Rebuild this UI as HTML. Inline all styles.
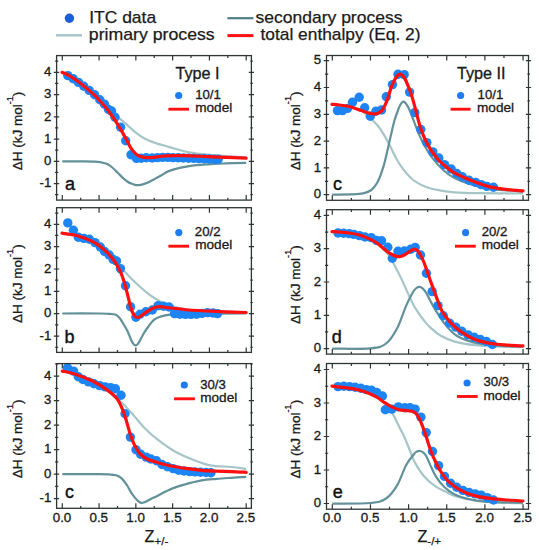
<!DOCTYPE html>
<html><head><meta charset="utf-8"><title>ITC enthalpy</title>
<style>html,body{margin:0;padding:0;background:#fff;width:539px;height:550px;overflow:hidden}svg{display:block}</style>
</head><body>
<svg width="539" height="550" viewBox="0 0 539 550">
<rect width="539" height="550" fill="#fff"/>
<circle cx="69.4" cy="18.2" r="4.7" fill="#1a5fd6"/>
<line x1="56" y1="35.3" x2="82" y2="35.3" stroke="#a6c5c8" stroke-width="2.4"/>
<line x1="227.4" y1="18.2" x2="253.4" y2="18.2" stroke="#4f7e88" stroke-width="2.2"/>
<line x1="227.4" y1="35.6" x2="253.4" y2="35.6" stroke="#ff1010" stroke-width="3"/>
<g font-family='"Liberation Sans", sans-serif' font-size="17" fill="#1a1a1a" stroke="#1a1a1a" stroke-width="0.25">
<text x="89.2" y="22.8" textLength="66.9" lengthAdjust="spacingAndGlyphs">ITC data</text>
<text x="88.8" y="39.9" textLength="125.9" lengthAdjust="spacingAndGlyphs">primary process</text>
<text x="255.6" y="23.0" textLength="146.8" lengthAdjust="spacingAndGlyphs">secondary process</text>
<text x="260.5" y="40.2" textLength="160.0" lengthAdjust="spacingAndGlyphs">total enthalpy (Eq. 2)</text>
</g>
<path d="M62,72.3 C63.05,72.78 65.85,73.83 68.3,75.2 C70.75,76.57 73.92,78.53 76.7,80.5 C79.48,82.47 82.68,85.13 85,87 C87.32,88.87 88.75,90.08 90.6,91.7 C92.45,93.32 94.43,95.07 96.1,96.7 C97.77,98.33 99.02,99.85 100.6,101.5 C102.18,103.15 103.75,104.82 105.6,106.6 C107.45,108.38 109.38,110.23 111.7,112.2 C114.02,114.17 116.9,116.25 119.5,118.4 C122.1,120.55 124.7,122.83 127.3,125.1 C129.9,127.37 132.32,129.82 135.1,132 C137.88,134.18 140.67,136.38 144,138.2 C147.33,140.02 151.6,141.63 155.1,142.9 C158.6,144.17 161.68,144.82 165,145.8 C168.32,146.78 170.98,147.72 175,148.8 C179.02,149.88 183.65,151.32 189.1,152.3 C194.55,153.28 201.52,154.08 207.7,154.7 C213.88,155.32 219.78,155.55 226.2,156 C232.62,156.45 242.87,157.17 246.2,157.4" fill="none" stroke="#a6c5c8" stroke-width="2.2" stroke-linejoin="round"/>
<path d="M62.3,161.3 C66.08,161.32 79.55,161.35 85,161.4 C90.45,161.45 92.5,161.48 95,161.6 C97.5,161.72 98.5,161.87 100,162.1 C101.5,162.33 102.7,162.63 104,163 C105.3,163.37 106.52,163.63 107.8,164.3 C109.08,164.97 110.4,165.95 111.7,167 C113,168.05 114.3,169.33 115.6,170.6 C116.9,171.87 118.2,173.3 119.5,174.6 C120.8,175.9 122.1,177.25 123.4,178.4 C124.7,179.55 126,180.63 127.3,181.5 C128.6,182.37 129.92,183.05 131.2,183.6 C132.48,184.15 133.7,184.55 135,184.8 C136.3,185.05 137.68,185.17 139,185.1 C140.32,185.03 141.6,184.77 142.9,184.4 C144.2,184.03 145.45,183.48 146.8,182.9 C148.15,182.32 149.5,181.65 151,180.9 C152.5,180.15 153.97,179.38 155.8,178.4 C157.63,177.42 159.63,176.3 162,175 C164.37,173.7 165.48,172.07 170,170.6 C174.52,169.13 182.82,167.25 189.1,166.2 C195.38,165.15 201.52,164.77 207.7,164.3 C213.88,163.83 219.78,163.65 226.2,163.4 C232.62,163.15 242.87,162.9 246.2,162.8" fill="none" stroke="#62919a" stroke-width="2.2" stroke-linejoin="round"/>
<g fill="#1c84f4">
<circle cx="67.8" cy="75.6" r="4.7"/>
<circle cx="73.2" cy="78.8" r="4.7"/>
<circle cx="78.5" cy="82.4" r="4.7"/>
<circle cx="83.8" cy="86.2" r="4.7"/>
<circle cx="89.2" cy="90.4" r="4.7"/>
<circle cx="94.6" cy="94.8" r="4.7"/>
<circle cx="99.8" cy="99.8" r="4.7"/>
<circle cx="104.5" cy="104.2" r="4.7"/>
<circle cx="108.5" cy="109.5" r="4.7"/>
<circle cx="111.5" cy="111" r="4.7"/>
<circle cx="115" cy="117.3" r="4.7"/>
<circle cx="120.6" cy="127.3" r="4.7"/>
<circle cx="125.7" cy="140.8" r="4.7"/>
<circle cx="131" cy="154.7" r="4.7"/>
<circle cx="136.5" cy="158.4" r="4.7"/>
<circle cx="141.2" cy="158.2" r="4.7"/>
<circle cx="146.2" cy="157.8" r="4.7"/>
<circle cx="152.2" cy="158" r="4.7"/>
<circle cx="157.4" cy="157.6" r="4.7"/>
<circle cx="162.6" cy="157.4" r="4.7"/>
<circle cx="167.8" cy="157.4" r="4.7"/>
<circle cx="173" cy="157.6" r="4.7"/>
<circle cx="178.2" cy="157.8" r="4.7"/>
<circle cx="183.4" cy="158" r="4.7"/>
<circle cx="188.6" cy="158.2" r="4.7"/>
<circle cx="193.8" cy="158.4" r="4.7"/>
<circle cx="199" cy="158.6" r="4.7"/>
<circle cx="204.2" cy="158.8" r="4.7"/>
<circle cx="209.4" cy="159" r="4.7"/>
<circle cx="214.6" cy="159.2" r="4.7"/>
<circle cx="218.2" cy="159.2" r="4.7"/>
</g>
<path d="M62,72.3 C63.05,72.78 65.85,73.83 68.3,75.2 C70.75,76.57 73.92,78.53 76.7,80.5 C79.48,82.47 82.68,85.13 85,87 C87.32,88.87 88.75,90.08 90.6,91.7 C92.45,93.32 94.43,95.03 96.1,96.7 C97.77,98.37 99.02,99.95 100.6,101.7 C102.18,103.45 103.85,105.07 105.6,107.2 C107.35,109.33 109.43,112.18 111.1,114.5 C112.77,116.82 114.37,119.18 115.6,121.1 C116.83,123.02 117.37,124.12 118.5,126 C119.63,127.88 121,129.97 122.4,132.4 C123.8,134.83 125.42,137.88 126.9,140.6 C128.38,143.32 129.82,146.48 131.3,148.7 C132.78,150.92 134.32,152.6 135.8,153.9 C137.28,155.2 138.47,155.88 140.2,156.5 C141.93,157.12 144.23,157.43 146.2,157.6 C148.17,157.77 148.75,157.8 152,157.5 C155.25,157.2 160.33,156.12 165.7,155.8 C171.07,155.48 177.2,155.47 184.2,155.6 C191.2,155.73 200.7,156.3 207.7,156.6 C214.7,156.9 219.78,157.13 226.2,157.4 C232.62,157.67 242.87,158.07 246.2,158.2" fill="none" stroke="#ff1010" stroke-width="3.2" stroke-linecap="round" stroke-linejoin="round"/>
<rect x="56.6" y="55.6" width="194.8" height="144.5" fill="none" stroke="#2f3535" stroke-width="1.3"/>
<path d="M62.3,55.6v5M62.3,200.1v-5M80.69,55.6v2.4M80.69,200.1v-2.4M99.08,55.6v5M99.08,200.1v-5M117.47,55.6v2.4M117.47,200.1v-2.4M135.86,55.6v5M135.86,200.1v-5M154.25,55.6v2.4M154.25,200.1v-2.4M172.64,55.6v5M172.64,200.1v-5M191.03,55.6v2.4M191.03,200.1v-2.4M209.42,55.6v5M209.42,200.1v-5M227.81,55.6v2.4M227.81,200.1v-2.4M246.2,55.6v5M246.2,200.1v-5M55.1,194.68h3.2M250.4,194.68h2.4M53.8,183.55h5.4M248.8,183.55h5.2M55.1,172.43h3.2M250.4,172.43h2.4M53.8,161.3h5.4M248.8,161.3h5.2M55.1,150.18h3.2M250.4,150.18h2.4M53.8,139.05h5.4M248.8,139.05h5.2M55.1,127.93h3.2M250.4,127.93h2.4M53.8,116.8h5.4M248.8,116.8h5.2M55.1,105.68h3.2M250.4,105.68h2.4M53.8,94.55h5.4M248.8,94.55h5.2M55.1,83.43h3.2M250.4,83.43h2.4M53.8,72.3h5.4M248.8,72.3h5.2M55.1,61.18h3.2M250.4,61.18h2.4" fill="none" stroke="#2f3535" stroke-width="1.2"/>
<g font-family='"Liberation Sans", sans-serif' font-size="13.2" fill="#1a1a1a" text-anchor="end" stroke="#1a1a1a" stroke-width="0.32">
<text x="51.3" y="187.25">-1</text>
<text x="51.3" y="165">0</text>
<text x="51.3" y="142.75">1</text>
<text x="51.3" y="120.5">2</text>
<text x="51.3" y="98.25">3</text>
<text x="51.3" y="76">4</text>
</g>
<text transform="translate(22,131) rotate(-90)" font-family='"Liberation Sans", sans-serif' font-size="13.5" fill="#1a1a1a" stroke="#1a1a1a" stroke-width="0.32" text-anchor="middle">&#916;H (kJ mol<tspan font-size="9.2" dy="-9">-1</tspan><tspan dy="9">)</tspan></text>
<text x="65" y="189.8" font-family='"Liberation Sans", sans-serif' font-size="18" fill="#111" stroke="#111" stroke-width="0.4">a</text>
<g font-family='"Liberation Sans", sans-serif' fill="#1a1a1a" stroke="#1a1a1a" stroke-width="0.32">
<text x="175.4" y="79.1" font-size="16.2">Type I</text>
<circle cx="178.7" cy="95.5" r="3.6" fill="#1e7bf0" stroke="none"/>
<text x="195.2" y="99.2" font-size="13.2">10/1</text>
<line x1="168.4" y1="109.2" x2="189" y2="109.2" stroke="#ff1010" stroke-width="2.9"/>
<text x="195.2" y="111.6" font-size="13.6">model</text>
</g>
<path d="M62,233.2 C64.1,233.5 71.6,234.42 74.6,235 C77.6,235.58 77.72,235.93 80,236.7 C82.28,237.47 85.52,238.4 88.3,239.6 C91.08,240.8 94.02,242.17 96.7,243.9 C99.38,245.63 102.03,247.92 104.4,250 C106.77,252.08 108.97,254.35 110.9,256.4 C112.83,258.45 114.3,260.4 116,262.3 C117.7,264.2 119.27,265.85 121.1,267.8 C122.93,269.75 124.93,271.83 127,274 C129.07,276.17 131.33,278.67 133.5,280.8 C135.67,282.93 137.95,284.97 140,286.8 C142.05,288.63 143.8,290.18 145.8,291.8 C147.8,293.42 149.63,294.93 152,296.5 C154.37,298.07 157,299.73 160,301.2 C163,302.67 166.7,304.17 170,305.3 C173.3,306.43 176.13,307.22 179.8,308 C183.47,308.78 187.35,309.5 192,310 C196.65,310.5 202,310.67 207.7,311 C213.4,311.33 219.78,311.73 226.2,312 C232.62,312.27 242.87,312.5 246.2,312.6" fill="none" stroke="#a6c5c8" stroke-width="2.2" stroke-linejoin="round"/>
<path d="M62.3,313.5 C68.58,313.5 92.05,313.43 100,313.5 C107.95,313.57 107.5,313.72 110,313.9 C112.5,314.08 113.47,314 115,314.6 C116.53,315.2 117.82,315.97 119.2,317.5 C120.58,319.03 121.88,321.47 123.3,323.8 C124.72,326.13 126.33,328.67 127.7,331.5 C129.07,334.33 130.53,338.72 131.5,340.8 C132.47,342.88 132.85,343.25 133.5,344 C134.15,344.75 134.77,345.22 135.4,345.3 C136.03,345.38 136.67,345.07 137.3,344.5 C137.93,343.93 138.25,343.53 139.2,341.9 C140.15,340.27 141.47,337.27 143,334.7 C144.53,332.13 146.53,329.02 148.4,326.5 C150.27,323.98 152.27,321.23 154.2,319.6 C156.13,317.97 157.37,317.53 160,316.7 C162.63,315.87 165,315.07 170,314.6 C175,314.13 177.3,314.1 190,313.9 C202.7,313.7 236.83,313.48 246.2,313.4" fill="none" stroke="#62919a" stroke-width="2.2" stroke-linejoin="round"/>
<g fill="#1c84f4">
<circle cx="67.8" cy="222.9" r="4.7"/>
<circle cx="73.4" cy="230.2" r="4.7"/>
<circle cx="78.3" cy="237.2" r="4.7"/>
<circle cx="83.8" cy="238.4" r="4.7"/>
<circle cx="89.4" cy="239.3" r="4.7"/>
<circle cx="95" cy="242.6" r="4.7"/>
<circle cx="100.3" cy="247" r="4.7"/>
<circle cx="104.5" cy="251.5" r="4.7"/>
<circle cx="109.2" cy="255" r="4.7"/>
<circle cx="113.2" cy="259.5" r="4.7"/>
<circle cx="116.5" cy="261" r="4.7"/>
<circle cx="120.4" cy="268.6" r="4.7"/>
<circle cx="125.5" cy="285.7" r="4.7"/>
<circle cx="130.6" cy="306.8" r="4.7"/>
<circle cx="135.9" cy="317.3" r="4.7"/>
<circle cx="140" cy="314.2" r="4.7"/>
<circle cx="145.9" cy="311.7" r="4.7"/>
<circle cx="152.3" cy="310" r="4.7"/>
<circle cx="158" cy="305.8" r="4.7"/>
<circle cx="163.5" cy="306.2" r="4.7"/>
<circle cx="169" cy="307" r="4.7"/>
<circle cx="174.5" cy="313.6" r="4.7"/>
<circle cx="180" cy="314.2" r="4.7"/>
<circle cx="185.5" cy="314.4" r="4.7"/>
<circle cx="191" cy="314.4" r="4.7"/>
<circle cx="196.5" cy="314.2" r="4.7"/>
<circle cx="202" cy="313.4" r="4.7"/>
<circle cx="207.5" cy="312.6" r="4.7"/>
<circle cx="213" cy="313" r="4.7"/>
<circle cx="217.5" cy="313.6" r="4.7"/>
</g>
<path d="M62,233.2 C64.1,233.5 71.6,234.42 74.6,235 C77.6,235.58 77.72,235.93 80,236.7 C82.28,237.47 85.52,238.4 88.3,239.6 C91.08,240.8 94.02,242.17 96.7,243.9 C99.38,245.63 102.03,247.88 104.4,250 C106.77,252.12 108.85,254.17 110.9,256.6 C112.95,259.03 115,261.82 116.7,264.6 C118.4,267.38 119.88,270.52 121.1,273.3 C122.32,276.08 123.15,278.63 124,281.3 C124.85,283.97 125.48,286.6 126.2,289.3 C126.92,292 127.63,294.8 128.3,297.5 C128.97,300.2 129.48,303 130.2,305.5 C130.92,308 131.8,310.67 132.6,312.5 C133.4,314.33 134.18,315.67 135,316.5 C135.82,317.33 136.58,317.53 137.5,317.5 C138.42,317.47 139.52,316.85 140.5,316.3 C141.48,315.75 141.8,315.32 143.4,314.2 C145,313.08 148.07,310.77 150.1,309.6 C152.13,308.43 153.95,307.7 155.6,307.2 C157.25,306.7 157.5,306.47 160,306.6 C162.5,306.73 165.75,307.43 170.6,308 C175.45,308.57 182.92,309.5 189.1,310 C195.28,310.5 201.52,310.68 207.7,311 C213.88,311.32 219.78,311.65 226.2,311.9 C232.62,312.15 242.87,312.4 246.2,312.5" fill="none" stroke="#ff1010" stroke-width="3.2" stroke-linecap="round" stroke-linejoin="round"/>
<rect x="56.6" y="207.7" width="194.8" height="144.7" fill="none" stroke="#2f3535" stroke-width="1.3"/>
<path d="M62.3,207.7v5M62.3,352.4v-5M80.69,207.7v2.4M80.69,352.4v-2.4M99.08,207.7v5M99.08,352.4v-5M117.47,207.7v2.4M117.47,352.4v-2.4M135.86,207.7v5M135.86,352.4v-5M154.25,207.7v2.4M154.25,352.4v-2.4M172.64,207.7v5M172.64,352.4v-5M191.03,207.7v2.4M191.03,352.4v-2.4M209.42,207.7v5M209.42,352.4v-5M227.81,207.7v2.4M227.81,352.4v-2.4M246.2,207.7v5M246.2,352.4v-5M55.1,347.23h3.2M250.4,347.23h2.4M53.8,336.05h5.4M248.8,336.05h5.2M55.1,324.88h3.2M250.4,324.88h2.4M53.8,313.7h5.4M248.8,313.7h5.2M55.1,302.52h3.2M250.4,302.52h2.4M53.8,291.35h5.4M248.8,291.35h5.2M55.1,280.17h3.2M250.4,280.17h2.4M53.8,269h5.4M248.8,269h5.2M55.1,257.82h3.2M250.4,257.82h2.4M53.8,246.65h5.4M248.8,246.65h5.2M55.1,235.47h3.2M250.4,235.47h2.4M53.8,224.3h5.4M248.8,224.3h5.2M55.1,213.12h3.2M250.4,213.12h2.4" fill="none" stroke="#2f3535" stroke-width="1.2"/>
<g font-family='"Liberation Sans", sans-serif' font-size="13.2" fill="#1a1a1a" text-anchor="end" stroke="#1a1a1a" stroke-width="0.32">
<text x="51.3" y="339.75">-1</text>
<text x="51.3" y="317.4">0</text>
<text x="51.3" y="295.05">1</text>
<text x="51.3" y="272.7">2</text>
<text x="51.3" y="250.35">3</text>
<text x="51.3" y="228">4</text>
</g>
<text transform="translate(22,283.7) rotate(-90)" font-family='"Liberation Sans", sans-serif' font-size="13.5" fill="#1a1a1a" stroke="#1a1a1a" stroke-width="0.32" text-anchor="middle">&#916;H (kJ mol<tspan font-size="9.2" dy="-9">-1</tspan><tspan dy="9">)</tspan></text>
<text x="64.6" y="343.4" font-family='"Liberation Sans", sans-serif' font-size="18" fill="#111" stroke="#111" stroke-width="0.4">b</text>
<g font-family='"Liberation Sans", sans-serif' fill="#1a1a1a" stroke="#1a1a1a" stroke-width="0.32">
<circle cx="178.8" cy="232.6" r="3.6" fill="#1e7bf0" stroke="none"/>
<text x="194.8" y="235.8" font-size="13.2">20/2</text>
<line x1="168.4" y1="246.2" x2="189" y2="246.2" stroke="#ff1010" stroke-width="2.9"/>
<text x="195.2" y="249.3" font-size="13.6">model</text>
</g>
<path d="M62.3,371.1 C64.35,371.57 69.47,372.2 74.6,373.9 C79.73,375.6 87.53,378.52 93.1,381.3 C98.67,384.08 103.35,387.2 108,390.6 C112.65,394 116.68,397.52 121,401.7 C125.32,405.88 129.9,411.22 133.9,415.7 C137.9,420.18 141.25,424.78 145,428.6 C148.75,432.42 151.42,434.78 156.4,438.6 C161.38,442.42 168.72,447.95 174.9,451.5 C181.08,455.05 187.65,457.6 193.5,459.9 C199.35,462.2 203.7,464.12 210,465.3 C216.3,466.48 225.27,466.4 231.3,467 C237.33,467.6 243.72,468.58 246.2,468.9" fill="none" stroke="#a6c5c8" stroke-width="2.2" stroke-linejoin="round"/>
<path d="M62.3,474.1 C68.58,474.12 92.05,474.13 100,474.2 C107.95,474.27 107.33,474.32 110,474.5 C112.67,474.68 114.17,474.75 116,475.3 C117.83,475.85 119.58,476.73 121,477.8 C122.42,478.87 123.42,480.33 124.5,481.7 C125.58,483.07 126.58,484.52 127.5,486 C128.42,487.48 129.12,489.13 130,490.6 C130.88,492.07 131.87,493.5 132.8,494.8 C133.73,496.1 134.67,497.32 135.6,498.4 C136.53,499.48 137.47,500.57 138.4,501.3 C139.33,502.03 140.27,502.62 141.2,502.8 C142.13,502.98 143.08,502.67 144,502.4 C144.92,502.13 145.53,501.78 146.7,501.2 C147.87,500.62 149.32,499.73 151,498.9 C152.68,498.07 154.35,497.42 156.8,496.2 C159.25,494.98 163.17,492.87 165.7,491.6 C168.23,490.33 168.92,489.77 172,488.6 C175.08,487.43 179.25,485.97 184.2,484.6 C189.15,483.23 196.32,481.35 201.7,480.4 C207.08,479.45 211.57,479.33 216.5,478.9 C221.43,478.47 226.35,478.15 231.3,477.8 C236.25,477.45 243.72,476.97 246.2,476.8" fill="none" stroke="#62919a" stroke-width="2.2" stroke-linejoin="round"/>
<g fill="#1c84f4">
<circle cx="67.5" cy="367.8" r="4.7"/>
<circle cx="73.6" cy="371.1" r="4.7"/>
<circle cx="78.3" cy="376.7" r="4.7"/>
<circle cx="82.9" cy="379.5" r="4.7"/>
<circle cx="88.5" cy="381.9" r="4.7"/>
<circle cx="94" cy="383.7" r="4.7"/>
<circle cx="99.6" cy="385.6" r="4.7"/>
<circle cx="105.2" cy="386.9" r="4.7"/>
<circle cx="110.7" cy="387.8" r="4.7"/>
<circle cx="115.4" cy="388.8" r="4.7"/>
<circle cx="121" cy="395.3" r="4.7"/>
<circle cx="125" cy="413.8" r="4.7"/>
<circle cx="130.4" cy="437.1" r="4.7"/>
<circle cx="136" cy="449.7" r="4.7"/>
<circle cx="140.6" cy="454.3" r="4.7"/>
<circle cx="146.2" cy="457.1" r="4.7"/>
<circle cx="150.8" cy="459" r="4.7"/>
<circle cx="156.4" cy="460.8" r="4.7"/>
<circle cx="161.9" cy="464.5" r="4.7"/>
<circle cx="167.5" cy="466.8" r="4.7"/>
<circle cx="173.1" cy="468.6" r="4.7"/>
<circle cx="178.6" cy="470.2" r="4.7"/>
<circle cx="184.1" cy="471" r="4.7"/>
<circle cx="189.6" cy="471.6" r="4.7"/>
<circle cx="195.1" cy="471.9" r="4.7"/>
<circle cx="200.6" cy="472.3" r="4.7"/>
<circle cx="206.1" cy="472.5" r="4.7"/>
<circle cx="211" cy="472.7" r="4.7"/>
</g>
<path d="M62.3,371.1 C64.35,371.57 69.47,372.2 74.6,373.9 C79.73,375.6 87.53,378.52 93.1,381.3 C98.67,384.08 103.98,387.65 108,390.6 C112.02,393.55 114.73,395.75 117.2,399 C119.67,402.25 121.25,406.4 122.8,410.1 C124.35,413.8 125.23,417.08 126.5,421.2 C127.77,425.32 129.13,430.98 130.4,434.8 C131.67,438.62 132.55,441 134.1,444.1 C135.65,447.2 137.53,450.92 139.7,453.4 C141.87,455.88 144.02,457.45 147.1,459 C150.18,460.55 154.18,461.53 158.2,462.7 C162.22,463.87 166.43,465.03 171.2,466 C175.97,466.97 181.72,467.77 186.8,468.5 C191.88,469.23 196.75,469.95 201.7,470.4 C206.65,470.85 211.57,471 216.5,471.2 C221.43,471.4 226.35,471.42 231.3,471.6 C236.25,471.78 243.72,472.18 246.2,472.3" fill="none" stroke="#ff1010" stroke-width="3.2" stroke-linecap="round" stroke-linejoin="round"/>
<rect x="56.6" y="363.6" width="194.8" height="144.7" fill="none" stroke="#2f3535" stroke-width="1.3"/>
<path d="M62.3,363.6v5M62.3,508.3v-5M80.69,363.6v2.4M80.69,508.3v-2.4M99.08,363.6v5M99.08,508.3v-5M117.47,363.6v2.4M117.47,508.3v-2.4M135.86,363.6v5M135.86,508.3v-5M154.25,363.6v2.4M154.25,508.3v-2.4M172.64,363.6v5M172.64,508.3v-5M191.03,363.6v2.4M191.03,508.3v-2.4M209.42,363.6v5M209.42,508.3v-5M227.81,363.6v2.4M227.81,508.3v-2.4M246.2,363.6v5M246.2,508.3v-5M53.8,498.6h5.4M248.8,498.6h5.2M55.1,486.35h3.2M250.4,486.35h2.4M53.8,474.1h5.4M248.8,474.1h5.2M55.1,461.85h3.2M250.4,461.85h2.4M53.8,449.6h5.4M248.8,449.6h5.2M55.1,437.35h3.2M250.4,437.35h2.4M53.8,425.1h5.4M248.8,425.1h5.2M55.1,412.85h3.2M250.4,412.85h2.4M53.8,400.6h5.4M248.8,400.6h5.2M55.1,388.35h3.2M250.4,388.35h2.4M53.8,376.1h5.4M248.8,376.1h5.2M55.1,363.85h3.2M250.4,363.85h2.4" fill="none" stroke="#2f3535" stroke-width="1.2"/>
<g font-family='"Liberation Sans", sans-serif' font-size="13.2" fill="#1a1a1a" text-anchor="end" stroke="#1a1a1a" stroke-width="0.32">
<text x="51.3" y="502.3">-1</text>
<text x="51.3" y="477.8">0</text>
<text x="51.3" y="453.3">1</text>
<text x="51.3" y="428.8">2</text>
<text x="51.3" y="404.3">3</text>
<text x="51.3" y="379.8">4</text>
</g>
<text transform="translate(22,438.8) rotate(-90)" font-family='"Liberation Sans", sans-serif' font-size="13.5" fill="#1a1a1a" stroke="#1a1a1a" stroke-width="0.32" text-anchor="middle">&#916;H (kJ mol<tspan font-size="9.2" dy="-9">-1</tspan><tspan dy="9">)</tspan></text>
<text x="64.9" y="497.7" font-family='"Liberation Sans", sans-serif' font-size="18" fill="#111" stroke="#111" stroke-width="0.4">c</text>
<g font-family='"Liberation Sans", sans-serif' fill="#1a1a1a" stroke="#1a1a1a" stroke-width="0.32">
<circle cx="184.3" cy="385" r="3.6" fill="#1e7bf0" stroke="none"/>
<text x="200.2" y="388.7" font-size="13.2">30/3</text>
<line x1="174.1" y1="398.8" x2="194.9" y2="398.8" stroke="#ff1010" stroke-width="2.9"/>
<text x="200.2" y="402.1" font-size="13.6">model</text>
</g>
<path d="M332,104.3 C333.18,104.42 336.05,104.6 339.1,105 C342.15,105.4 346.58,105.73 350.3,106.7 C354.02,107.67 358.62,109.4 361.4,110.8 C364.18,112.2 365.17,113.53 367,115.1 C368.83,116.67 370.92,118.78 372.4,120.2 C373.88,121.62 374.35,121.78 375.9,123.6 C377.45,125.42 379.5,127.68 381.7,131.1 C383.9,134.52 386.63,139.45 389.1,144.1 C391.57,148.75 394.03,154.67 396.5,159 C398.97,163.33 401.12,166.6 403.9,170.1 C406.68,173.6 409.52,177.18 413.2,180 C416.88,182.82 421.37,185.23 426,187 C430.63,188.77 436.25,189.72 441,190.6 C445.75,191.48 448,191.88 454.5,192.3 C461,192.72 468.58,192.92 480,193.1 C491.42,193.28 515.83,193.35 523,193.4" fill="none" stroke="#a6c5c8" stroke-width="2.2" stroke-linejoin="round"/>
<path d="M332.3,194.7 C336.82,194.57 353.03,194.6 359.4,193.9 C365.77,193.2 367.4,192.62 370.5,190.5 C373.6,188.38 375.83,185.22 378,181.2 C380.17,177.18 381.97,171.35 383.5,166.4 C385.03,161.45 385.95,156.77 387.2,151.5 C388.45,146.23 389.77,140.05 391,134.8 C392.23,129.55 393.37,124.27 394.6,120 C395.83,115.73 397.37,111.87 398.4,109.2 C399.43,106.53 400,105.27 400.8,104 C401.6,102.73 402.33,101.67 403.2,101.6 C404.07,101.53 404.97,102.23 406,103.6 C407.03,104.97 408.12,106.95 409.4,109.8 C410.68,112.65 412.07,116.52 413.7,120.7 C415.33,124.88 417.37,130.7 419.2,134.9 C421.03,139.1 422.52,142.07 424.7,145.9 C426.88,149.73 429.18,153.85 432.3,157.9 C435.42,161.95 439.7,166.85 443.4,170.2 C447.1,173.55 450.05,175.67 454.5,178 C458.95,180.33 464.52,182.43 470.1,184.2 C475.68,185.97 482.43,187.6 488,188.6 C493.57,189.6 497.67,189.75 503.5,190.2 C509.33,190.65 519.75,191.12 523,191.3" fill="none" stroke="#62919a" stroke-width="2.2" stroke-linejoin="round"/>
<g fill="#1c84f4">
<circle cx="337.5" cy="110.6" r="4.7"/>
<circle cx="342.5" cy="110.6" r="4.7"/>
<circle cx="347.5" cy="108.4" r="4.7"/>
<circle cx="352.5" cy="102.2" r="4.7"/>
<circle cx="359.2" cy="97.2" r="4.7"/>
<circle cx="364.7" cy="107.8" r="4.7"/>
<circle cx="370.3" cy="116.2" r="4.7"/>
<circle cx="375.9" cy="111.2" r="4.7"/>
<circle cx="381.5" cy="110" r="4.7"/>
<circle cx="386.3" cy="96.7" r="4.7"/>
<circle cx="392.5" cy="84.6" r="4.7"/>
<circle cx="398" cy="74.2" r="4.7"/>
<circle cx="404.2" cy="74.6" r="4.7"/>
<circle cx="409.6" cy="92.1" r="4.7"/>
<circle cx="414.8" cy="112.6" r="4.7"/>
<circle cx="420.8" cy="129.5" r="4.7"/>
<circle cx="426.8" cy="142.6" r="4.7"/>
<circle cx="432.8" cy="151.9" r="4.7"/>
<circle cx="438.8" cy="158" r="4.7"/>
<circle cx="444.5" cy="164.6" r="4.7"/>
<circle cx="451.2" cy="169" r="4.7"/>
<circle cx="456.8" cy="173.5" r="4.7"/>
<circle cx="462.3" cy="176.8" r="4.7"/>
<circle cx="469" cy="180.2" r="4.7"/>
<circle cx="475.7" cy="182.4" r="4.7"/>
<circle cx="481.3" cy="184.6" r="4.7"/>
<circle cx="486.8" cy="186.4" r="4.7"/>
<circle cx="493.5" cy="187.3" r="4.7"/>
</g>
<path d="M332,104.3 C333.18,104.42 336.05,104.6 339.1,105 C342.15,105.4 346.58,105.77 350.3,106.7 C354.02,107.63 358.07,109.48 361.4,110.6 C364.73,111.72 367.88,112.85 370.3,113.4 C372.72,113.95 374.03,114.3 375.9,113.9 C377.77,113.5 380.02,112.38 381.5,111 C382.98,109.62 383.78,107.62 384.8,105.6 C385.82,103.58 386.45,102.13 387.6,98.9 C388.75,95.67 390.32,89.75 391.7,86.2 C393.08,82.65 394.52,79.6 395.9,77.6 C397.28,75.6 398.62,74.22 400,74.2 C401.38,74.18 402.8,75.42 404.2,77.5 C405.6,79.58 407,83.18 408.4,86.7 C409.8,90.22 411.35,94.57 412.6,98.6 C413.85,102.63 414.72,106.48 415.9,110.9 C417.08,115.32 418.42,120.92 419.7,125.1 C420.98,129.28 422.05,132.37 423.6,136 C425.15,139.63 426.82,143.25 429,146.9 C431.18,150.55 434.3,154.95 436.7,157.9 C439.1,160.85 440.43,162.1 443.4,164.6 C446.37,167.1 450.05,170.32 454.5,172.9 C458.95,175.48 464.52,177.85 470.1,180.1 C475.68,182.35 482.43,184.9 488,186.4 C493.57,187.9 497.67,188.35 503.5,189.1 C509.33,189.85 519.75,190.6 523,190.9" fill="none" stroke="#ff1010" stroke-width="3.2" stroke-linecap="round" stroke-linejoin="round"/>
<rect x="326.5" y="55.5" width="202" height="144.8" fill="none" stroke="#2f3535" stroke-width="1.3"/>
<path d="M332.3,55.5v5M332.3,200.3v-5M351.38,55.5v2.4M351.38,200.3v-2.4M370.45,55.5v5M370.45,200.3v-5M389.52,55.5v2.4M389.52,200.3v-2.4M408.6,55.5v5M408.6,200.3v-5M427.68,55.5v2.4M427.68,200.3v-2.4M446.75,55.5v5M446.75,200.3v-5M465.83,55.5v2.4M465.83,200.3v-2.4M484.9,55.5v5M484.9,200.3v-5M503.98,55.5v2.4M503.98,200.3v-2.4M523.05,55.5v5M523.05,200.3v-5M323.7,194.7h5.4M525.9,194.7h5.2M325,181.3h3.2M527.5,181.3h2.4M323.7,167.9h5.4M525.9,167.9h5.2M325,154.5h3.2M527.5,154.5h2.4M323.7,141.1h5.4M525.9,141.1h5.2M325,127.7h3.2M527.5,127.7h2.4M323.7,114.3h5.4M525.9,114.3h5.2M325,100.9h3.2M527.5,100.9h2.4M323.7,87.5h5.4M525.9,87.5h5.2M325,74.1h3.2M527.5,74.1h2.4M323.7,60.7h5.4M525.9,60.7h5.2" fill="none" stroke="#2f3535" stroke-width="1.2"/>
<g font-family='"Liberation Sans", sans-serif' font-size="13.2" fill="#1a1a1a" text-anchor="end" stroke="#1a1a1a" stroke-width="0.32">
<text x="321" y="198.4">0</text>
<text x="321" y="171.6">1</text>
<text x="321" y="144.8">2</text>
<text x="321" y="118">3</text>
<text x="321" y="91.2">4</text>
<text x="321" y="64.4">5</text>
</g>
<text transform="translate(300,130.8) rotate(-90)" font-family='"Liberation Sans", sans-serif' font-size="13.5" fill="#1a1a1a" stroke="#1a1a1a" stroke-width="0.32" text-anchor="middle">&#916;H (kJ mol<tspan font-size="9.2" dy="-9">-1</tspan><tspan dy="9">)</tspan></text>
<text x="333" y="189.8" font-family='"Liberation Sans", sans-serif' font-size="18" fill="#111" stroke="#111" stroke-width="0.4">c</text>
<g font-family='"Liberation Sans", sans-serif' fill="#1a1a1a" stroke="#1a1a1a" stroke-width="0.32">
<text x="456.9" y="79.1" font-size="16.2">Type II</text>
<circle cx="460.6" cy="95.5" r="3.6" fill="#1e7bf0" stroke="none"/>
<text x="477.6" y="99.2" font-size="13.2">10/1</text>
<line x1="450.6" y1="109.2" x2="470.6" y2="109.2" stroke="#ff1010" stroke-width="2.9"/>
<text x="477" y="111.6" font-size="13.6">model</text>
</g>
<path d="M332,231.6 C333.32,231.68 337.03,231.87 339.9,232.1 C342.77,232.33 346.1,232.55 349.2,233 C352.3,233.45 355.42,233.95 358.5,234.8 C361.58,235.65 364.72,236.78 367.7,238.1 C370.68,239.42 373.68,240.72 376.4,242.7 C379.12,244.68 381.88,247.85 384,250 C386.12,252.15 387.2,252.78 389.1,255.6 C391,258.42 393.28,262.9 395.4,266.9 C397.52,270.9 399.88,275.57 401.8,279.6 C403.72,283.63 405.43,287.9 406.9,291.1 C408.37,294.3 409.33,296.18 410.6,298.8 C411.87,301.42 413.02,304.18 414.5,306.8 C415.98,309.42 417.75,312 419.5,314.5 C421.25,317 423.13,319.57 425,321.8 C426.87,324.03 428.13,325.62 430.7,327.9 C433.27,330.18 436.4,333.22 440.4,335.5 C444.4,337.78 448.92,339.98 454.7,341.6 C460.48,343.22 467.55,344.37 475.1,345.2 C482.65,346.03 492.02,346.28 500,346.6 C507.98,346.92 519.17,347.02 523,347.1" fill="none" stroke="#a6c5c8" stroke-width="2.2" stroke-linejoin="round"/>
<path d="M332.3,348.6 C338.67,348.57 361.53,349.25 370.5,348.4 C379.47,347.55 381.63,346.92 386.1,343.5 C390.57,340.08 393.95,334.22 397.3,327.9 C400.65,321.58 403.6,311.53 406.2,305.6 C408.8,299.67 411.18,295.23 412.9,292.3 C414.62,289.37 415.4,288.9 416.5,288 C417.6,287.1 418.48,286.85 419.5,286.9 C420.52,286.95 421.48,287.32 422.6,288.3 C423.72,289.28 424.93,290.75 426.2,292.8 C427.47,294.85 428.52,297.5 430.2,300.6 C431.88,303.7 433.92,307.57 436.3,311.4 C438.68,315.23 441.43,319.78 444.5,323.6 C447.57,327.42 450.97,331.5 454.7,334.3 C458.43,337.1 462.48,338.8 466.9,340.4 C471.32,342 475.42,342.98 481.2,343.9 C486.98,344.82 494.63,345.47 501.6,345.9 C508.57,346.33 519.43,346.4 523,346.5" fill="none" stroke="#62919a" stroke-width="2.2" stroke-linejoin="round"/>
<g fill="#1c84f4">
<circle cx="338" cy="233" r="4.7"/>
<circle cx="343.6" cy="233.2" r="4.7"/>
<circle cx="349.2" cy="233.6" r="4.7"/>
<circle cx="353.8" cy="234.4" r="4.7"/>
<circle cx="359.4" cy="235.6" r="4.7"/>
<circle cx="365" cy="237" r="4.7"/>
<circle cx="371.2" cy="237.6" r="4.7"/>
<circle cx="376.5" cy="240.5" r="4.7"/>
<circle cx="381.5" cy="240.8" r="4.7"/>
<circle cx="387.8" cy="247.2" r="4.7"/>
<circle cx="392.3" cy="258.2" r="4.7"/>
<circle cx="398" cy="251.2" r="4.7"/>
<circle cx="404.4" cy="251" r="4.7"/>
<circle cx="410.7" cy="249.3" r="4.7"/>
<circle cx="415.2" cy="247.4" r="4.7"/>
<circle cx="420.5" cy="255" r="4.7"/>
<circle cx="426.4" cy="273.2" r="4.7"/>
<circle cx="432.2" cy="291.6" r="4.7"/>
<circle cx="438" cy="305.6" r="4.7"/>
<circle cx="443.3" cy="315.8" r="4.7"/>
<circle cx="449.6" cy="323.1" r="4.7"/>
<circle cx="455.7" cy="327.1" r="4.7"/>
<circle cx="461.8" cy="331.2" r="4.7"/>
<circle cx="468" cy="334.9" r="4.7"/>
<circle cx="474.1" cy="337.3" r="4.7"/>
<circle cx="480.2" cy="339.4" r="4.7"/>
<circle cx="486.3" cy="341.4" r="4.7"/>
<circle cx="492.4" cy="344.5" r="4.7"/>
</g>
<path d="M332,231.6 C333.32,231.68 337.03,231.87 339.9,232.1 C342.77,232.33 346.1,232.55 349.2,233 C352.3,233.45 355.42,233.95 358.5,234.8 C361.58,235.65 364.72,236.78 367.7,238.1 C370.68,239.42 373.9,241.08 376.4,242.7 C378.9,244.32 380.58,246.1 382.7,247.8 C384.82,249.5 386.98,251.52 389.1,252.9 C391.22,254.28 393.5,255.5 395.4,256.1 C397.3,256.7 398.8,256.82 400.5,256.5 C402.2,256.18 403.85,255.18 405.6,254.2 C407.35,253.22 409.52,251.47 411,250.6 C412.48,249.73 413.42,249 414.5,249 C415.58,249 416.47,249.53 417.5,250.6 C418.53,251.67 419.62,253.42 420.7,255.4 C421.78,257.38 422.9,259.77 424,262.5 C425.1,265.23 425.82,267.62 427.3,271.8 C428.78,275.98 431.2,282.9 432.9,287.6 C434.6,292.3 435.92,295.97 437.5,300 C439.08,304.03 440.22,308.03 442.4,311.8 C444.58,315.57 447.53,319.3 450.6,322.6 C453.67,325.9 456.72,328.8 460.8,331.6 C464.88,334.4 470,337.42 475.1,339.4 C480.2,341.38 485.95,342.55 491.4,343.5 C496.85,344.45 502.53,344.7 507.8,345.1 C513.07,345.5 520.47,345.77 523,345.9" fill="none" stroke="#ff1010" stroke-width="3.2" stroke-linecap="round" stroke-linejoin="round"/>
<rect x="326.5" y="209.7" width="202" height="144.4" fill="none" stroke="#2f3535" stroke-width="1.3"/>
<path d="M332.3,209.7v5M332.3,354.1v-5M351.38,209.7v2.4M351.38,354.1v-2.4M370.45,209.7v5M370.45,354.1v-5M389.52,209.7v2.4M389.52,354.1v-2.4M408.6,209.7v5M408.6,354.1v-5M427.68,209.7v2.4M427.68,354.1v-2.4M446.75,209.7v5M446.75,354.1v-5M465.83,209.7v2.4M465.83,354.1v-2.4M484.9,209.7v5M484.9,354.1v-5M503.98,209.7v2.4M503.98,354.1v-2.4M523.05,209.7v5M523.05,354.1v-5M323.7,348.6h5.4M525.9,348.6h5.2M325,331.95h3.2M527.5,331.95h2.4M323.7,315.3h5.4M525.9,315.3h5.2M325,298.65h3.2M527.5,298.65h2.4M323.7,282h5.4M525.9,282h5.2M325,265.35h3.2M527.5,265.35h2.4M323.7,248.7h5.4M525.9,248.7h5.2M325,232.05h3.2M527.5,232.05h2.4M323.7,215.4h5.4M525.9,215.4h5.2" fill="none" stroke="#2f3535" stroke-width="1.2"/>
<g font-family='"Liberation Sans", sans-serif' font-size="13.2" fill="#1a1a1a" text-anchor="end" stroke="#1a1a1a" stroke-width="0.32">
<text x="321" y="352.3">0</text>
<text x="321" y="319">1</text>
<text x="321" y="285.7">2</text>
<text x="321" y="252.4">3</text>
<text x="321" y="219.1">4</text>
</g>
<text transform="translate(300,284.6) rotate(-90)" font-family='"Liberation Sans", sans-serif' font-size="13.5" fill="#1a1a1a" stroke="#1a1a1a" stroke-width="0.32" text-anchor="middle">&#916;H (kJ mol<tspan font-size="9.2" dy="-9">-1</tspan><tspan dy="9">)</tspan></text>
<text x="331.8" y="343.4" font-family='"Liberation Sans", sans-serif' font-size="18" fill="#111" stroke="#111" stroke-width="0.4">d</text>
<g font-family='"Liberation Sans", sans-serif' fill="#1a1a1a" stroke="#1a1a1a" stroke-width="0.32">
<circle cx="465.6" cy="232.6" r="3.6" fill="#1e7bf0" stroke="none"/>
<text x="481.7" y="235.8" font-size="13.2">20/2</text>
<line x1="455" y1="246.2" x2="475.8" y2="246.2" stroke="#ff1010" stroke-width="2.9"/>
<text x="481.7" y="249.3" font-size="13.6">model</text>
</g>
<path d="M332,386.1 C334.1,386.33 340.97,387.03 344.6,387.5 C348.23,387.97 350.72,388.28 353.8,388.9 C356.88,389.52 360.32,390.35 363.1,391.2 C365.88,392.05 368.13,392.95 370.5,394 C372.87,395.05 375.45,396.35 377.3,397.5 C379.15,398.65 379.9,399.45 381.6,400.9 C383.3,402.35 385.55,403.87 387.5,406.2 C389.45,408.53 391.37,411.5 393.3,414.9 C395.23,418.3 397.17,422.72 399.1,426.6 C401.03,430.48 402.95,433.83 404.9,438.2 C406.85,442.57 409.1,448.68 410.8,452.8 C412.5,456.92 412.9,459 415.1,462.9 C417.3,466.8 420.67,472.32 424,476.2 C427.33,480.08 431.43,483.6 435.1,486.2 C438.77,488.8 442.73,490.17 446,491.8 C449.27,493.43 449.85,494.53 454.7,496 C459.55,497.47 467.55,499.5 475.1,500.6 C482.65,501.7 492.02,502.15 500,502.6 C507.98,503.05 519.17,503.18 523,503.3" fill="none" stroke="#a6c5c8" stroke-width="2.2" stroke-linejoin="round"/>
<path d="M332.3,503.6 C338.67,503.5 361.53,503.85 370.5,503 C379.47,502.15 381.63,501.48 386.1,498.5 C390.57,495.52 393.95,490.67 397.3,485.1 C400.65,479.53 403.42,470.28 406.2,465.1 C408.98,459.92 412.2,456.25 414,454 C415.8,451.75 416,452.1 417,451.6 C418,451.1 419,450.88 420,451 C421,451.12 421.97,451.47 423,452.3 C424.03,453.13 425,453.9 426.2,456 C427.4,458.1 428.52,461.38 430.2,464.9 C431.88,468.42 433.92,473.37 436.3,477.1 C438.68,480.83 441.43,484.4 444.5,487.3 C447.57,490.2 450.97,492.62 454.7,494.5 C458.43,496.38 461.8,497.42 466.9,498.6 C472,499.78 475.95,500.92 485.3,501.6 C494.65,502.28 516.72,502.52 523,502.7" fill="none" stroke="#62919a" stroke-width="2.2" stroke-linejoin="round"/>
<g fill="#1c84f4">
<circle cx="338" cy="386.6" r="4.7"/>
<circle cx="343.8" cy="386.2" r="4.7"/>
<circle cx="349.5" cy="386.6" r="4.7"/>
<circle cx="355.2" cy="387.2" r="4.7"/>
<circle cx="360.9" cy="388.3" r="4.7"/>
<circle cx="366.4" cy="389.6" r="4.7"/>
<circle cx="371.5" cy="390.2" r="4.7"/>
<circle cx="376.6" cy="392.4" r="4.7"/>
<circle cx="382.4" cy="396" r="4.7"/>
<circle cx="385.3" cy="409.8" r="4.7"/>
<circle cx="391.8" cy="409.1" r="4.7"/>
<circle cx="398.4" cy="406.9" r="4.7"/>
<circle cx="404.9" cy="407.7" r="4.7"/>
<circle cx="410" cy="407.7" r="4.7"/>
<circle cx="415.1" cy="409.1" r="4.7"/>
<circle cx="420.9" cy="417.1" r="4.7"/>
<circle cx="426.2" cy="432.6" r="4.7"/>
<circle cx="432.5" cy="451.5" r="4.7"/>
<circle cx="438.6" cy="465.6" r="4.7"/>
<circle cx="444.5" cy="476.4" r="4.7"/>
<circle cx="450.6" cy="483.3" r="4.7"/>
<circle cx="456.7" cy="487.3" r="4.7"/>
<circle cx="462.9" cy="490.4" r="4.7"/>
<circle cx="469" cy="492.4" r="4.7"/>
<circle cx="475.1" cy="493.9" r="4.7"/>
<circle cx="481.2" cy="495.1" r="4.7"/>
<circle cx="487.3" cy="497.6" r="4.7"/>
<circle cx="493.5" cy="500" r="4.7"/>
</g>
<path d="M332,386.1 C334.1,386.33 340.97,387.03 344.6,387.5 C348.23,387.97 350.72,388.28 353.8,388.9 C356.88,389.52 360.32,390.35 363.1,391.2 C365.88,392.05 368.13,392.95 370.5,394 C372.87,395.05 374.95,396.07 377.3,397.5 C379.65,398.93 382.18,401.03 384.6,402.6 C387.02,404.17 389.38,405.7 391.8,406.9 C394.22,408.1 396.67,409.18 399.1,409.8 C401.53,410.42 404.22,410.35 406.4,410.6 C408.58,410.85 410.5,410.7 412.2,411.3 C413.9,411.9 415.15,412.38 416.6,414.2 C418.05,416.02 419.45,418.92 420.9,422.2 C422.35,425.48 423.95,430.02 425.3,433.9 C426.65,437.78 427.88,442.15 429,445.5 C430.12,448.85 430.98,451.45 432,454 C433.02,456.55 433.7,457.97 435.1,460.8 C436.5,463.63 438.15,467.53 440.4,471 C442.65,474.47 445.2,478.38 448.6,481.6 C452,484.82 456.38,487.92 460.8,490.3 C465.22,492.68 470,494.52 475.1,495.9 C480.2,497.28 485.95,497.92 491.4,498.6 C496.85,499.28 502.53,499.6 507.8,500 C513.07,500.4 520.47,500.83 523,501" fill="none" stroke="#ff1010" stroke-width="3.2" stroke-linecap="round" stroke-linejoin="round"/>
<rect x="326.5" y="363.5" width="202" height="145.7" fill="none" stroke="#2f3535" stroke-width="1.3"/>
<path d="M332.3,363.5v5M332.3,509.2v-5M351.38,363.5v2.4M351.38,509.2v-2.4M370.45,363.5v5M370.45,509.2v-5M389.52,363.5v2.4M389.52,509.2v-2.4M408.6,363.5v5M408.6,509.2v-5M427.68,363.5v2.4M427.68,509.2v-2.4M446.75,363.5v5M446.75,509.2v-5M465.83,363.5v2.4M465.83,509.2v-2.4M484.9,363.5v5M484.9,509.2v-5M503.98,363.5v2.4M503.98,509.2v-2.4M523.05,363.5v5M523.05,509.2v-5M323.7,503.5h5.4M525.9,503.5h5.2M325,486.75h3.2M527.5,486.75h2.4M323.7,470h5.4M525.9,470h5.2M325,453.25h3.2M527.5,453.25h2.4M323.7,436.5h5.4M525.9,436.5h5.2M325,419.75h3.2M527.5,419.75h2.4M323.7,403h5.4M525.9,403h5.2M325,386.25h3.2M527.5,386.25h2.4M323.7,369.5h5.4M525.9,369.5h5.2" fill="none" stroke="#2f3535" stroke-width="1.2"/>
<g font-family='"Liberation Sans", sans-serif' font-size="13.2" fill="#1a1a1a" text-anchor="end" stroke="#1a1a1a" stroke-width="0.32">
<text x="321" y="507.2">0</text>
<text x="321" y="473.7">1</text>
<text x="321" y="440.2">2</text>
<text x="321" y="406.7">3</text>
<text x="321" y="373.2">4</text>
</g>
<text transform="translate(300,439.2) rotate(-90)" font-family='"Liberation Sans", sans-serif' font-size="13.5" fill="#1a1a1a" stroke="#1a1a1a" stroke-width="0.32" text-anchor="middle">&#916;H (kJ mol<tspan font-size="9.2" dy="-9">-1</tspan><tspan dy="9">)</tspan></text>
<text x="332.8" y="497.8" font-family='"Liberation Sans", sans-serif' font-size="18" fill="#111" stroke="#111" stroke-width="0.4">e</text>
<g font-family='"Liberation Sans", sans-serif' fill="#1a1a1a" stroke="#1a1a1a" stroke-width="0.32">
<circle cx="467.1" cy="383" r="3.6" fill="#1e7bf0" stroke="none"/>
<text x="483.5" y="386.3" font-size="13.2">30/3</text>
<line x1="456.9" y1="396.5" x2="477.7" y2="396.5" stroke="#ff1010" stroke-width="2.9"/>
<text x="483.5" y="399.9" font-size="13.6">model</text>
</g>
<g font-family='"Liberation Sans", sans-serif' font-size="13.4" fill="#1a1a1a" text-anchor="middle" stroke="#1a1a1a" stroke-width="0.32">
<text x="62" y="521.7">0.0</text>
<text x="98.78" y="521.7">0.5</text>
<text x="135.56" y="521.7">1.0</text>
<text x="172.34" y="521.7">1.5</text>
<text x="209.12" y="521.7">2.0</text>
<text x="245.9" y="521.7">2.5</text>
<text x="332" y="521.7">0.0</text>
<text x="370.15" y="521.7">0.5</text>
<text x="408.3" y="521.7">1.0</text>
<text x="446.45" y="521.7">1.5</text>
<text x="484.6" y="521.7">2.0</text>
<text x="522.75" y="521.7">2.5</text>
</g>
<g font-family='"Liberation Sans", sans-serif' fill="#1a1a1a" stroke="#1a1a1a" stroke-width="0.25">
<text x="144.5" y="541.7" font-size="16.2">Z<tspan font-size="11.6" dy="2.8">+/-</tspan></text>
<text x="417.4" y="541.7" font-size="16.2">Z<tspan font-size="11.6" dy="2.8">-/+</tspan></text>
</g>
</svg>
</body></html>
